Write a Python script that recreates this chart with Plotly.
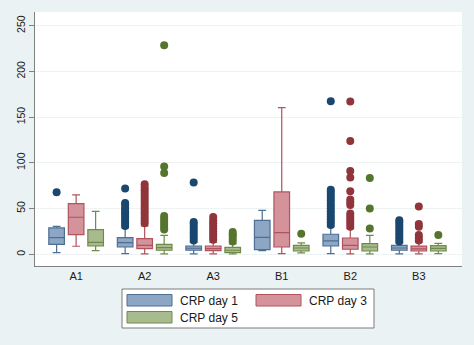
import plotly.graph_objects as go

# ---- data -------------------------------------------------------------
categories = ["A1", "A2", "A3", "B1", "B2", "B3"]
series_names = ["CRP day 1", "CRP day 3", "CRP day 5"]

# CRP day 1
d1_low = [1.8, 0.8, 0.5, 4.0, 0.8, 0.5]
d1_q1 = [10.9, 8.0, 4.4, 5.1, 9.1, 4.4]
d1_med = [18.3, 12.8, 6.6, 18.6, 14.6, 6.9]
d1_q3 = [28.8, 18.3, 9.1, 37.2, 21.9, 9.8]
d1_high = [30.6, 29.0, 13.0, 48.1, 30.0, 12.5]
d1_out = [
    [67.8],
    [31, 33.5, 36, 38.5, 41, 43.5, 46, 48.5, 51, 54.5, 56, 72],
    [15, 18, 21, 24, 27, 30, 33, 35.4, 78.4],
    [None],
    [32, 35, 38, 41, 44, 47, 50, 53, 56, 59, 62, 65, 68, 70.5, 167.4],
    [14, 17, 20, 23, 26, 29, 32, 35, 37.2],
]

# CRP day 3
d3_low = [8.8, 0.5, 0.5, 0.8, 0.5, 0.5]
d3_q1 = [21.5, 6.2, 4.0, 8.0, 5.5, 3.6]
d3_med = [40.5, 9.8, 6.3, 23.7, 9.8, 6.0]
d3_q3 = [55.5, 17.2, 9.1, 68.2, 17.8, 9.0]
d3_high = [64.9, 31.0, 13.0, 160.5, 28.0, 13.0]
d3_out = [
    [None],
    [34, 37, 40, 43, 46, 49, 52, 55, 58, 61, 64, 67, 70, 73, 76.5],
    [16, 19, 22, 25, 28, 31, 34, 37, 40.8],
    [None],
    [30, 33, 36, 39, 42, 44.5, 54, 57, 60, 69, 84, 91, 124, 167],
    [15, 18, 21, 30, 33, 52.2],
]

# CRP day 5
d5_low = [4.0, 0.5, 0.3, 1.5, 0.5, 0.8]
d5_q1 = [9.1, 4.4, 1.8, 3.6, 3.6, 3.6]
d5_med = [13.1, 7.3, 4.4, 6.9, 8.0, 6.5]
d5_q3 = [27.0, 10.9, 7.6, 9.8, 11.7, 9.4]
d5_high = [47.0, 20.8, 11.5, 12.4, 20.8, 12.0]
d5_out = [
    [None],
    [27, 30, 33, 36, 39, 42, 89, 96, 228.5],
    [14, 17, 20, 22, 24.4],
    [22.6],
    [28.3, 50, 83.5],
    [21],
]

y_ticks = [0, 50, 100, 150, 200, 250]

# ---- styling -----------------------------------------------------------
line_colors = ["#4E6E93", "#B0535D", "#6F8A4A"]
fill_colors = ["#8DA6C3", "#D4939B", "#A8BB8E"]
dot_colors = ["#1A476F", "#90353B", "#55752F"]
FONT = "Liberation Sans, Arial, Helvetica, sans-serif"

W, H = 474, 345
M_L, M_R, M_T, M_B = 35, 12, 12, 79

stats = [
    (d1_low, d1_q1, d1_med, d1_q3, d1_high, d1_out),
    (d3_low, d3_q1, d3_med, d3_q3, d3_high, d3_out),
    (d5_low, d5_q1, d5_med, d5_q3, d5_high, d5_out),
]

fig = go.Figure()
for k, (lo, q1, med, q3, hi, out) in enumerate(stats):
    fig.add_trace(go.Box(
        name=series_names[k],
        orientation="v",
        x=categories,
        y=out,
        q1=q1, median=med, q3=q3,
        lowerfence=lo, upperfence=hi,
        boxpoints="outliers", jitter=0, pointpos=0,
        whiskerwidth=0.5,
        line=dict(color=line_colors[k], width=1.2),
        fillcolor=fill_colors[k],
        marker=dict(color=dot_colors[k], size=8, line=dict(width=0)),
        showlegend=False,
    ))

# ---- hand-drawn legend (pixel layout converted to paper coords) --------
plot_w = W - M_L - M_R
plot_h = H - M_T - M_B


def px(xp):
    return (xp - M_L) / plot_w


def py(yp):
    return (H - M_B - yp) / plot_h


shapes = [dict(type="rect", xref="paper", yref="paper",
               x0=px(122), x1=px(374), y0=py(289), y1=py(328),
               fillcolor="white", line=dict(color="#7a7a7a", width=1), layer="above")]
annotations = []
legend_slots = [(127, 294.5), (256, 294.5), (127, 311.5)]
for k, (sx, sy) in enumerate(legend_slots):
    shapes.append(dict(type="rect", xref="paper", yref="paper",
                       x0=px(sx), x1=px(sx + 45), y0=py(sy), y1=py(sy + 11.5),
                       fillcolor=fill_colors[k],
                       line=dict(color=line_colors[k], width=1), layer="above"))
    annotations.append(dict(text=series_names[k], xref="paper", yref="paper",
                            x=px(sx + 51), y=py(sy + 6), xanchor="left", yanchor="middle",
                            showarrow=False, font=dict(family=FONT, size=12, color="#1a1a1a")))

fig.update_layout(
    width=W, height=H,
    margin=dict(l=M_L, r=M_R, t=M_T, b=M_B, pad=0),
    paper_bgcolor="#EAF2F3",
    plot_bgcolor="white",
    boxmode="group", boxgap=0.146, boxgroupgap=0.2,
    font=dict(family=FONT, color="#1a1a1a"),
    shapes=shapes,
    annotations=annotations,
    xaxis=dict(
        type="category", range=[-0.6, 5.63],
        showline=True, linecolor="#808080", linewidth=1,
        showgrid=False, ticks="", tickfont=dict(size=11),
    ),
    yaxis=dict(
        range=[-12.8, 265], tickvals=y_ticks,
        showline=True, linecolor="#808080", linewidth=1,
        ticks="outside", ticklen=5, tickcolor="#808080",
        tickangle=-90, tickfont=dict(size=10.5),
        showgrid=True, gridcolor="#EEF3F4", gridwidth=1, zeroline=False,
    ),
)

fig.write_html("out.html")
